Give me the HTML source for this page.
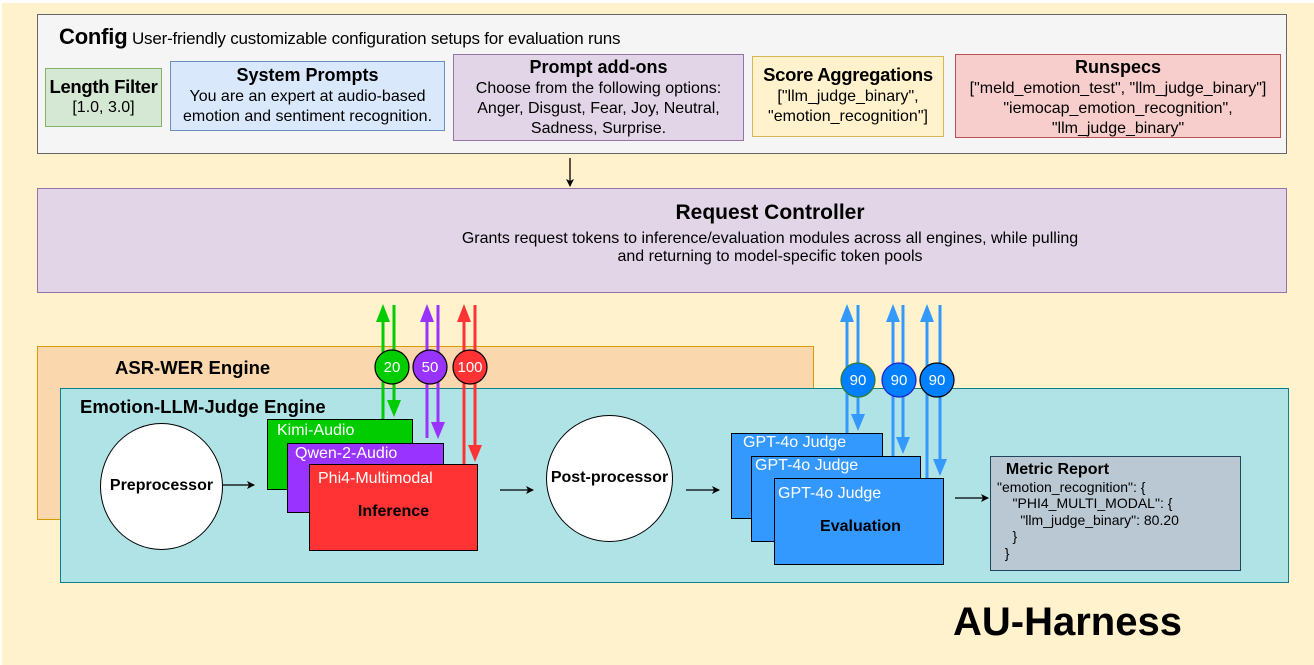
<!DOCTYPE html>
<html><head><meta charset="utf-8"><style>
body{margin:0;width:1314px;height:665px;overflow:hidden;background:#fff;font-family:"Liberation Sans",sans-serif;}
.a{position:absolute;box-sizing:border-box;}
.c{text-align:center;color:#000;}
</style></head><body>
<div class="a" style="left:2px;top:3px;width:1312px;height:662px;background:#fff2cc;"></div>
<!-- Config -->
<div class="a" style="left:37px;top:14px;width:1250px;height:140px;background:#f5f5f5;border:1.5px solid #666;"></div>
<div class="a" style="left:59px;top:24px;font-size:17px;white-space:nowrap;letter-spacing:-0.2px;"><b style="font-size:22px;">Config</b> User-friendly customizable configuration setups for evaluation runs</div>
<div class="a c" style="left:45px;top:68px;width:117px;height:59px;background:#d5e8d4;border:1px solid #82b366;padding-top:8px;font-size:16px;line-height:19px;white-space:nowrap;"><b style="font-size:18.5px;letter-spacing:-0.3px;">Length Filter</b><br>[1.0, 3.0]</div>
<div class="a c" style="left:170px;top:61px;width:275px;height:70px;background:#dae8fc;border:1px solid #6c8ebf;padding-top:3px;font-size:16px;line-height:20px;white-space:nowrap;"><b style="font-size:18px;">System Prompts</b><br>You are an expert at audio-based<br>emotion and sentiment recognition.</div>
<div class="a c" style="left:453px;top:54px;width:291px;height:87px;background:#e1d5e7;border:1px solid #9673a6;padding-top:2px;font-size:16px;line-height:20px;white-space:nowrap;"><b style="font-size:18px;">Prompt add-ons</b><br>Choose from the following options:<br>Anger, Disgust, Fear, Joy, Neutral,<br>Sadness, Surprise.</div>
<div class="a c" style="left:752px;top:56px;width:192px;height:81px;background:#fff2cc;border:1px solid #d6b656;padding-top:8px;font-size:16px;line-height:20px;white-space:nowrap;"><b style="font-size:18.5px;letter-spacing:-0.3px;">Score Aggregations</b><br>["llm_judge_binary",<br>"emotion_recognition"]</div>
<div class="a c" style="left:955px;top:54px;width:326px;height:84px;background:#f8cecc;border:1px solid #b85450;padding-top:2px;font-size:16px;line-height:20px;white-space:nowrap;"><b style="font-size:18px;">Runspecs</b><br>["meld_emotion_test", "llm_judge_binary"]<br>"iemocap_emotion_recognition",<br>"llm_judge_binary"</div>
<!-- Request Controller -->
<div class="a" style="left:37px;top:188px;width:1250px;height:105px;background:#e1d5e7;border:1.5px solid #9673a6;"></div>
<div class="a c" style="left:520px;top:201px;width:500px;font-size:21px;font-weight:bold;">Request Controller</div>
<div class="a c" style="left:400px;top:230px;width:740px;font-size:16px;line-height:18px;white-space:nowrap;">Grants request tokens to inference/evaluation modules across all engines, while pulling<br>and returning to model-specific token pools</div>
<!-- Engines -->
<div class="a" style="left:37px;top:346px;width:777px;height:174px;background:#fad7ac;border:1.5px solid #d79b00;"></div>
<div class="a" style="left:115px;top:357px;font-size:18.5px;font-weight:bold;">ASR-WER Engine</div>
<div class="a" style="left:60px;top:388px;width:1229px;height:195px;background:#b0e3e6;border:1.5px solid #0e8088;"></div>
<div class="a" style="left:80px;top:396px;font-size:18.5px;font-weight:bold;">Emotion-LLM-Judge Engine</div>
<!-- Circles -->
<div class="a" style="left:100px;top:423px;width:123px;height:127px;border-radius:50%;background:#fff;border:1.5px solid #000;"></div>
<div class="a c" style="left:90px;top:477px;width:143px;font-size:16px;font-weight:bold;">Preprocessor</div>
<div class="a" style="left:546px;top:415px;width:127px;height:127px;border-radius:50%;background:#fff;border:1.5px solid #000;"></div>
<div class="a c" style="left:536px;top:469px;width:147px;font-size:16px;font-weight:bold;">Post-processor</div>
<!-- Inference boxes -->
<div class="a" style="left:267px;top:419px;width:146px;height:71px;background:#00cc00;border:1.5px solid #000;color:#fff;font-size:16px;padding:2px 0 0 9px;">Kimi-Audio</div>
<div class="a" style="left:287px;top:443px;width:157px;height:70px;background:#9933ff;border:1.5px solid #000;color:#fff;font-size:16px;padding:1px 0 0 7px;">Qwen-2-Audio</div>
<div class="a" style="left:309px;top:464px;width:169px;height:87px;background:#ff3333;border:1.5px solid #000;color:#fff;font-size:16px;padding:5px 0 0 8px;">Phi4-Multimodal<div style="color:#000;font-weight:bold;text-align:center;margin-top:15px;padding-right:8px;">Inference</div></div>
<!-- GPT boxes -->
<div class="a" style="left:731px;top:433px;width:152px;height:86px;background:#3399ff;border:1.5px solid #000;color:#fff;font-size:16px;padding:0 0 0 11px;">GPT-4o Judge</div>
<div class="a" style="left:751px;top:456px;width:170px;height:86px;background:#3399ff;border:1.5px solid #000;color:#fff;font-size:16px;padding:0 0 0 3px;">GPT-4o Judge</div>
<div class="a" style="left:774px;top:478px;width:170px;height:87px;background:#3399ff;border:1.5px solid #000;color:#fff;font-size:16px;padding:6px 0 0 3px;">GPT-4o Judge<div style="color:#000;font-weight:bold;text-align:center;margin-top:15px;">Evaluation</div></div>
<!-- Metric Report -->
<div class="a" style="left:990px;top:456px;width:251px;height:115px;background:#bac8d3;border:1.5px solid #23445d;font-size:14px;line-height:16.5px;padding:4px 0 0 6px;white-space:pre;"><b style="font-size:16px;">  Metric Report</b>
"emotion_recognition": {
    "PHI4_MULTI_MODAL": {
      "llm_judge_binary": 80.20
    }
  }</div>
<div class="a" style="left:953px;top:600px;font-size:40px;font-weight:bold;">AU-Harness</div>
<svg class="a" style="left:0;top:0;" width="1314" height="665">
<defs>
<marker id="k" markerWidth="8" markerHeight="8" refX="7" refY="4" orient="auto" markerUnits="userSpaceOnUse"><path d="M0,0L8,4L0,8L2,4z" fill="#000"/></marker>
</defs>
<g stroke="#000" stroke-width="1.3" fill="none">
<line x1="570" y1="158" x2="570" y2="186" marker-end="url(#k)"/>
<line x1="223" y1="485" x2="254" y2="485" marker-end="url(#k)"/>
<line x1="500" y1="490" x2="533" y2="490" marker-end="url(#k)"/>
<line x1="686" y1="490" x2="719" y2="490" marker-end="url(#k)"/>
<line x1="955" y1="498" x2="988" y2="498" marker-end="url(#k)"/>
</g>
<g stroke-width="3">
<g stroke="#00cc00" fill="#00cc00"><line x1="383" y1="419" x2="383" y2="318"/><path d="M376,322L383,304L390,322z" stroke="none"/><line x1="394" y1="305" x2="394" y2="402"/><path d="M387,400L394,417L401,400z" stroke="none"/></g>
<g stroke="#9933ff" fill="#9933ff"><line x1="427" y1="438" x2="427" y2="318"/><path d="M420,322L427,304L434,322z" stroke="none"/><line x1="438" y1="305" x2="438" y2="424"/><path d="M431,422L438,439L445,422z" stroke="none"/></g>
<g stroke="#ff3333" fill="#ff3333"><line x1="464" y1="464" x2="464" y2="318"/><path d="M457,322L464,304L471,322z" stroke="none"/><line x1="475" y1="305" x2="475" y2="447"/><path d="M468,445L475,462L482,445z" stroke="none"/></g>
<g stroke="#3399ff" fill="#3399ff">
<line x1="847" y1="433" x2="847" y2="318"/><path d="M840,322L847,304L854,322z" stroke="none"/><line x1="858" y1="305" x2="858" y2="416"/><path d="M851,414L858,431L865,414z" stroke="none"/>
<line x1="893" y1="456" x2="893" y2="318"/><path d="M886,322L893,304L900,322z" stroke="none"/><line x1="903" y1="305" x2="903" y2="439"/><path d="M896,437L903,454L910,437z" stroke="none"/>
<line x1="927" y1="478" x2="927" y2="318"/><path d="M920,322L927,304L934,322z" stroke="none"/><line x1="940" y1="305" x2="940" y2="461"/><path d="M933,459L940,476L947,459z" stroke="none"/>
</g>
</g>
<g stroke-width="1.2" font-family="Liberation Sans, sans-serif" font-size="15" fill="#fff" text-anchor="middle">
<ellipse cx="392" cy="367" rx="17" ry="17" fill="#00cc00" stroke="#000"/><text x="392" y="372" fill="#fff">20</text>
<ellipse cx="430" cy="367" rx="17" ry="17" fill="#9933ff" stroke="#000"/><text x="430" y="372" fill="#fff">50</text>
<ellipse cx="470" cy="367" rx="17" ry="17" fill="#ff3333" stroke="#000"/><text x="470" y="372" fill="#fff">100</text>
<ellipse cx="858" cy="380" rx="17" ry="17" fill="#007fff" stroke="#2d7a2d"/><text x="858" y="385" fill="#fff">90</text>
<ellipse cx="899" cy="380" rx="17" ry="17" fill="#007fff" stroke="#2020cc"/><text x="899" y="385" fill="#fff">90</text>
<ellipse cx="937" cy="380" rx="17" ry="17" fill="#007fff" stroke="#000"/><text x="937" y="385" fill="#fff">90</text>
</g>
</svg>
</body></html>
